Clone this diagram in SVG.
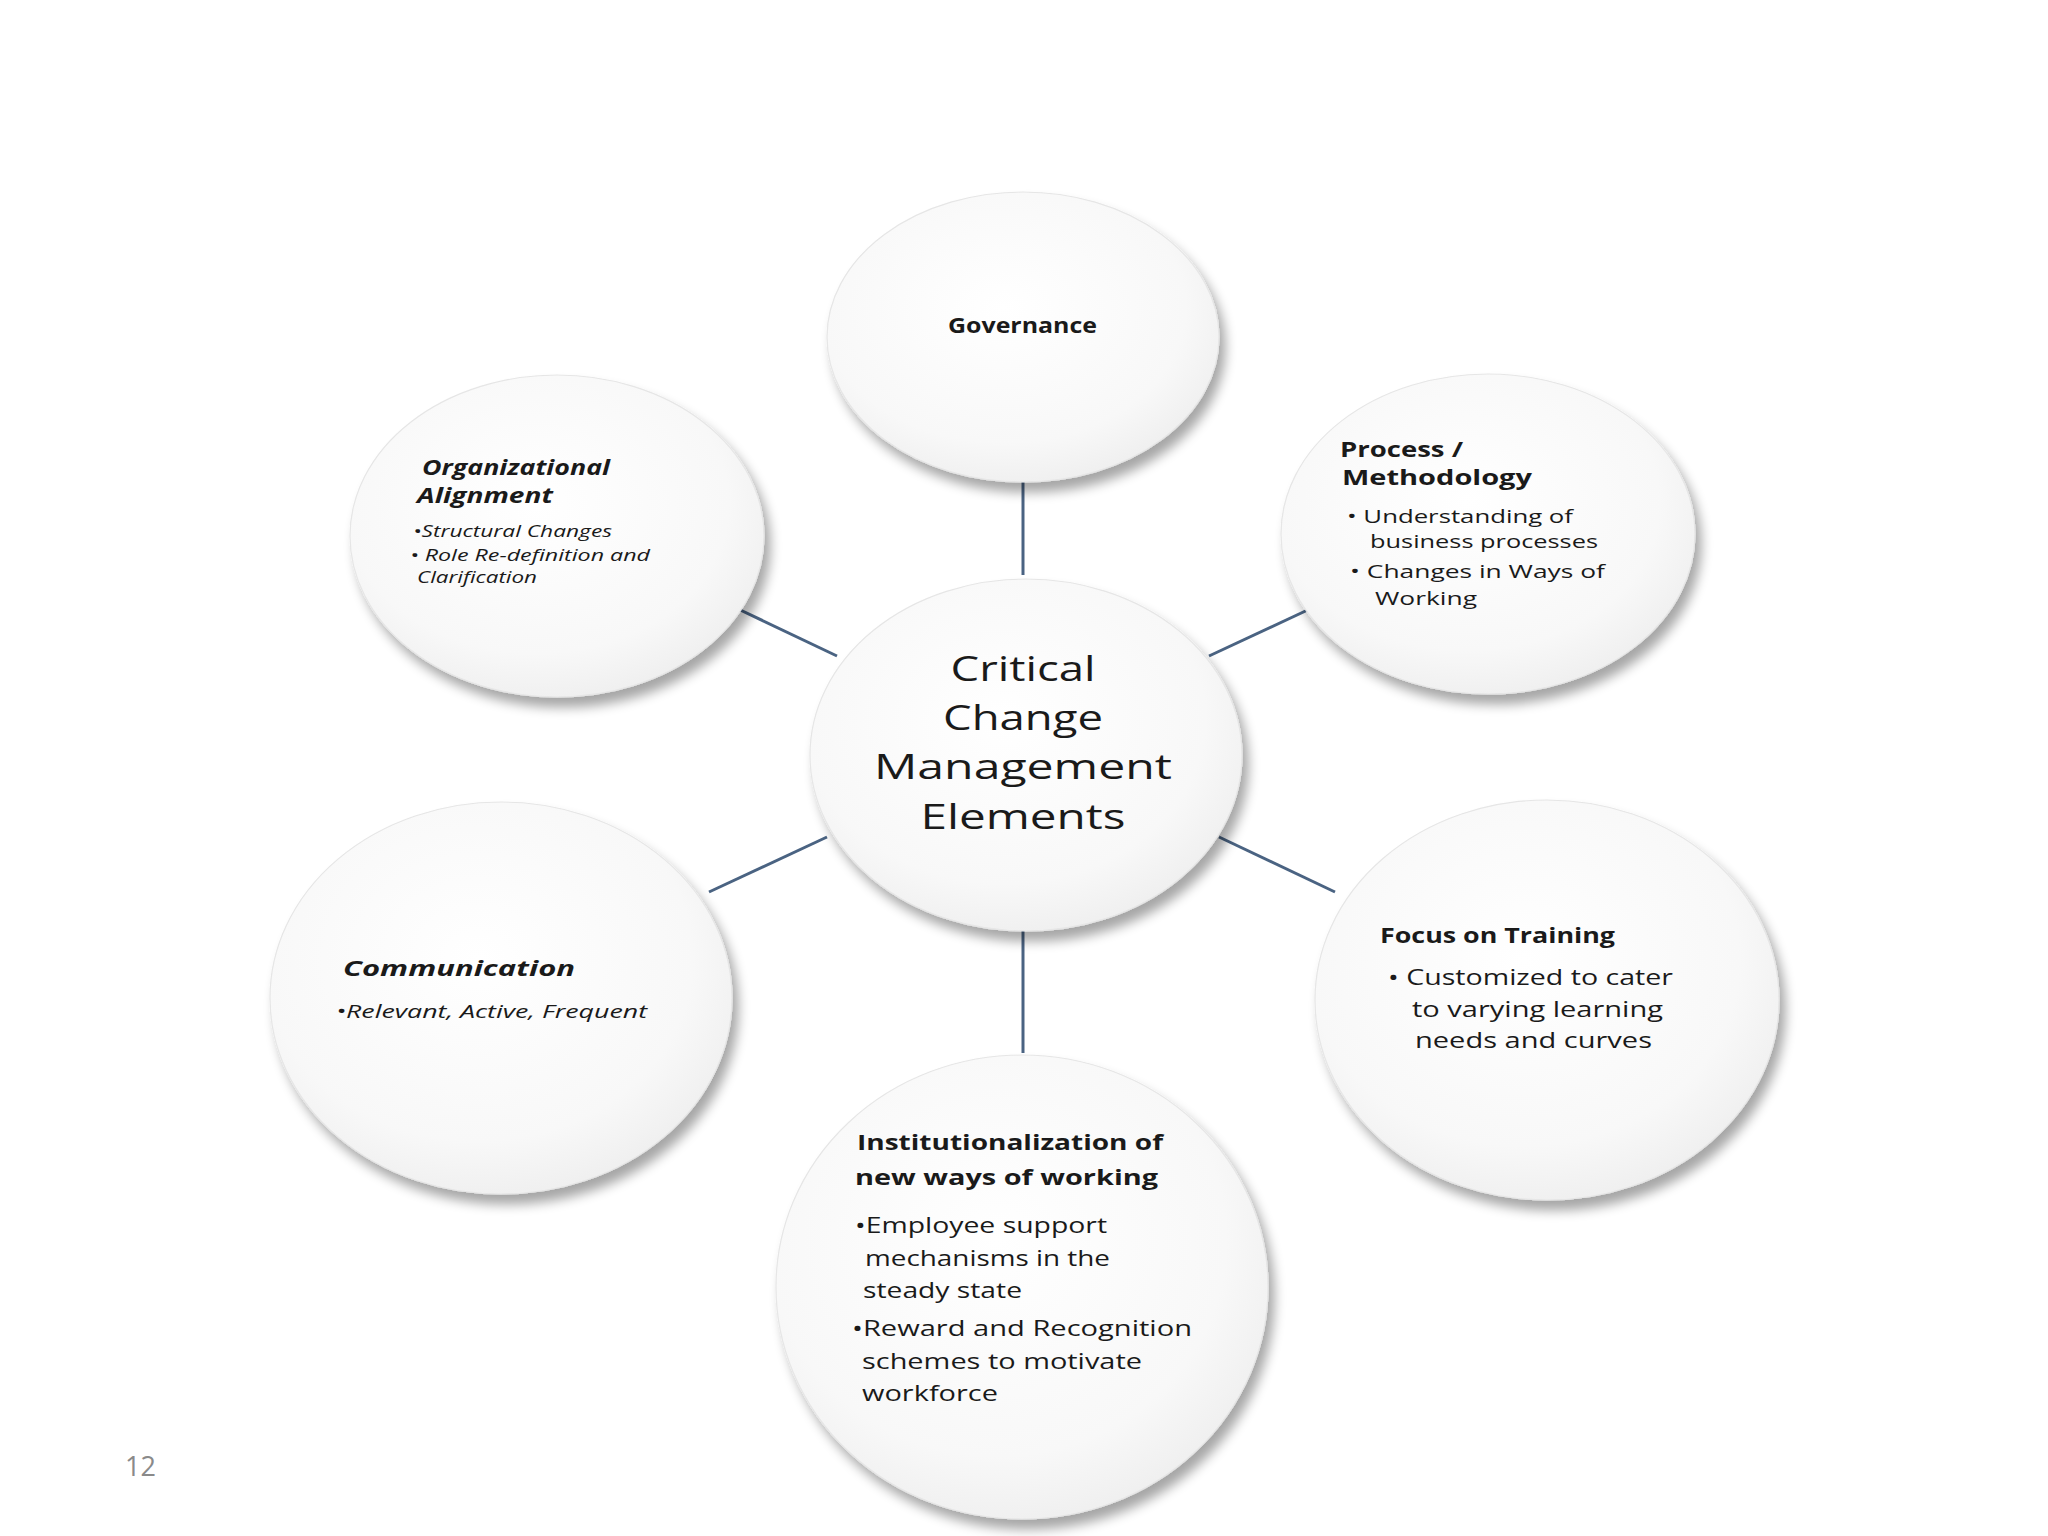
<svg xmlns="http://www.w3.org/2000/svg" width="2048" height="1536" viewBox="0 0 2048 1536">
<style>
text{font-family:"Open Sans","DejaVu Sans",sans-serif;fill:#1a1a1a}
.h{font-weight:bold;font-size:22px}
.hi{font-weight:bold;font-style:italic;font-size:22px}
.it{font-style:italic}
.disc{fill:url(#g);stroke:#e6e6e6;stroke-width:1.2;filter:url(#sh)}
.c{stroke:#4a6382;stroke-width:3;fill:none}
</style>
<defs>
<radialGradient id="g" cx="45%" cy="40%" r="62%">
<stop offset="0" stop-color="#ffffff"/>
<stop offset="0.75" stop-color="#f8f8f8"/>
<stop offset="1" stop-color="#efefef"/>
</radialGradient>
<filter id="sh" x="-20%" y="-20%" width="145%" height="150%">
<feGaussianBlur in="SourceAlpha" stdDeviation="6"/>
<feOffset dx="6" dy="10"/>
<feComponentTransfer><feFuncA type="linear" slope="0.35"/></feComponentTransfer>
<feMerge><feMergeNode/><feMergeNode in="SourceGraphic"/></feMerge>
</filter>
</defs>
<rect width="2048" height="1536" fill="#ffffff"/>
<g id="connectors">
<line class="c" x1="1023" y1="478" x2="1023" y2="575"/>
<line class="c" x1="734" y1="607" x2="837" y2="656"/>
<line class="c" x1="1314" y1="607" x2="1209" y2="656"/>
<line class="c" x1="709" y1="892" x2="827" y2="837"/>
<line class="c" x1="1335" y1="892" x2="1219" y2="837"/>
<line class="c" x1="1023" y1="928" x2="1023" y2="1053"/>
</g>
<g id="governance">
<ellipse class="disc" cx="1023" cy="337" rx="196" ry="145"/>
<text class="h" x="948" y="333" textLength="149" lengthAdjust="spacingAndGlyphs">Governance</text>
</g>
<g id="organizational-alignment">
<ellipse class="disc" cx="557" cy="536" rx="207" ry="161"/>
<text class="hi" x="422" y="475" textLength="188" lengthAdjust="spacingAndGlyphs">Organizational</text>
<text class="hi" x="417" y="503" textLength="136" lengthAdjust="spacingAndGlyphs">Alignment</text>
<text class="it" font-size="17" x="413" y="537" textLength="199" lengthAdjust="spacingAndGlyphs">•Structural Changes</text>
<text class="it" font-size="17" x="410" y="561" textLength="240" lengthAdjust="spacingAndGlyphs">• Role Re-definition and</text>
<text class="it" font-size="17" x="417" y="583" textLength="120" lengthAdjust="spacingAndGlyphs">Clarification</text>
</g>
<g id="process-methodology">
<ellipse class="disc" cx="1488" cy="534" rx="207" ry="160"/>
<text class="h" x="1340" y="457" textLength="123" lengthAdjust="spacingAndGlyphs">Process /</text>
<text class="h" x="1342" y="485" textLength="190" lengthAdjust="spacingAndGlyphs">Methodology</text>
<text font-size="18" x="1347" y="523" textLength="226" lengthAdjust="spacingAndGlyphs">• Understanding of</text>
<text font-size="18" x="1370" y="548" textLength="228" lengthAdjust="spacingAndGlyphs">business processes</text>
<text font-size="18" x="1350" y="578" textLength="255" lengthAdjust="spacingAndGlyphs">• Changes in Ways of</text>
<text font-size="18" x="1375" y="605" textLength="102" lengthAdjust="spacingAndGlyphs">Working</text>
</g>
<g id="center">
<ellipse class="disc" cx="1026" cy="755" rx="216" ry="176"/>
<text font-size="35" x="1023" y="681" text-anchor="middle" textLength="145" lengthAdjust="spacingAndGlyphs">Critical</text>
<text font-size="35" x="1023" y="730" text-anchor="middle" textLength="160" lengthAdjust="spacingAndGlyphs">Change</text>
<text font-size="35" x="1023" y="779" text-anchor="middle" textLength="298" lengthAdjust="spacingAndGlyphs">Management</text>
<text font-size="35" x="1023" y="829" text-anchor="middle" textLength="205" lengthAdjust="spacingAndGlyphs">Elements</text>
</g>
<g id="communication">
<ellipse class="disc" cx="501" cy="998" rx="231" ry="196"/>
<text class="hi" x="343" y="976" textLength="232" lengthAdjust="spacingAndGlyphs">Communication</text>
<text class="it" font-size="18" x="336" y="1018" textLength="311" lengthAdjust="spacingAndGlyphs">•Relevant, Active, Frequent</text>
</g>
<g id="focus-on-training">
<ellipse class="disc" cx="1547" cy="1000" rx="232" ry="200"/>
<text class="h" x="1380" y="943" textLength="235" lengthAdjust="spacingAndGlyphs">Focus on Training</text>
<text font-size="21" x="1388" y="985" textLength="285" lengthAdjust="spacingAndGlyphs">• Customized to cater</text>
<text font-size="21" x="1412" y="1017" textLength="251" lengthAdjust="spacingAndGlyphs">to varying learning</text>
<text font-size="21" x="1415" y="1048" textLength="237" lengthAdjust="spacingAndGlyphs">needs and curves</text>
</g>
<g id="institutionalization">
<ellipse class="disc" cx="1022" cy="1287" rx="246" ry="232"/>
<text class="h" font-size="24" x="857" y="1150" textLength="306" lengthAdjust="spacingAndGlyphs">Institutionalization of</text>
<text class="h" font-size="24" x="855" y="1185" textLength="303" lengthAdjust="spacingAndGlyphs">new ways of working</text>
<text font-size="22" x="855" y="1233" textLength="252" lengthAdjust="spacingAndGlyphs">•Employee support</text>
<text font-size="22" x="865" y="1266" textLength="245" lengthAdjust="spacingAndGlyphs">mechanisms in the</text>
<text font-size="22" x="863" y="1298" textLength="159" lengthAdjust="spacingAndGlyphs">steady state</text>
<text font-size="22" x="852" y="1336" textLength="340" lengthAdjust="spacingAndGlyphs">•Reward and Recognition</text>
<text font-size="22" x="862" y="1369" textLength="280" lengthAdjust="spacingAndGlyphs">schemes to motivate</text>
<text font-size="22" x="862" y="1401" textLength="136" lengthAdjust="spacingAndGlyphs">workforce</text>
</g>
<text x="125" y="1476" font-size="27" style="fill:#8a8a8a">12</text>
</svg>
